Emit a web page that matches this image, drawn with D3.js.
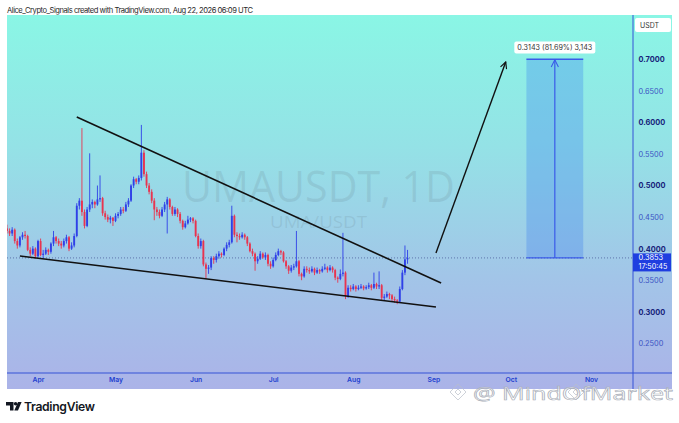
<!DOCTYPE html>
<html><head><meta charset="utf-8">
<script src="https://cdn.jsdelivr.net/npm/d3@7"></script>
<style>html,body{margin:0;padding:0;background:#fff;}svg{display:block;}</style>
</head><body><svg id="c" width="679" height="423"></svg>
<script>
// ---------- data ----------
const firstCandleDate = "2026-03-20";
// daily candles [open, high, low, close]
const candles = [
[.432,.438,.424,.428],[.428,.432,.420,.424],[.424,.434,.420,.430],[.430,.432,.408,.412],
[.412,.416,.400,.405],[.405,.420,.402,.418],[.418,.426,.414,.422],[.422,.428,.416,.420],
[.420,.422,.396,.398],[.398,.402,.388,.392],[.392,.404,.390,.400],[.400,.402,.384,.388],
[.388,.414,.386,.412],[.412,.416,.388,.390],[.390,.398,.385,.392],[.392,.402,.390,.398],
[.398,.400,.390,.395],[.395,.410,.392,.408],[.408,.428,.404,.418],[.418,.420,.408,.412],
[.412,.416,.404,.408],[.408,.412,.400,.405],[.405,.416,.402,.412],[.412,.422,.408,.418],
[.418,.420,.396,.400],[.400,.410,.398,.405],[.405,.424,.402,.420],[.420,.472,.418,.468],
[.468,.480,.462,.476],[.476,.591,.452,.458],[.458,.462,.432,.436],[.436,.466,.434,.462],
[.462,.551,.458,.470],[.470,.478,.464,.474],[.474,.476,.464,.470],[.470,.500,.468,.478],
[.478,.516,.474,.480],[.480,.482,.452,.456],[.456,.460,.446,.450],[.450,.454,.442,.446],
[.446,.452,.440,.449],[.449,.450,.436,.444],[.444,.456,.442,.452],[.452,.458,.448,.455],
[.455,.466,.452,.462],[.462,.466,.456,.460],[.460,.474,.458,.470],[.470,.480,.466,.476],
[.476,.502,.474,.500],[.500,.514,.496,.510],[.510,.512,.502,.506],[.506,.516,.502,.512],
[.512,.596,.508,.552],[.552,.556,.514,.518],[.518,.522,.496,.500],[.500,.504,.486,.490],
[.490,.494,.472,.476],[.476,.480,.445,.462],[.462,.466,.452,.458],[.458,.462,.448,.452],
[.452,.466,.450,.462],[.462,.474,.458,.470],[.470,.482,.424,.478],[.478,.480,.462,.466],
[.466,.468,.452,.455],[.455,.466,.452,.462],[.462,.464,.450,.455],[.455,.458,.440,.444],
[.444,.446,.430,.434],[.434,.444,.432,.440],[.440,.452,.438,.446],[.446,.450,.442,.448],
[.448,.450,.440,.444],[.444,.446,.418,.420],[.420,.424,.400,.404],[.404,.416,.400,.412],
[.412,.414,.372,.375],[.375,.378,.352,.368],[.368,.374,.360,.370],[.370,.388,.366,.385],
[.385,.388,.376,.382],[.382,.392,.378,.388],[.388,.396,.384,.392],[.392,.394,.386,.390],
[.390,.402,.388,.400],[.400,.410,.396,.406],[.406,.414,.402,.410],[.410,.468,.408,.452],
[.452,.454,.418,.422],[.422,.426,.410,.420],[.420,.424,.414,.418],[.418,.426,.416,.422],
[.422,.424,.414,.418],[.418,.420,.404,.408],[.408,.410,.394,.396],[.396,.400,.388,.392],
[.392,.394,.365,.380],[.380,.388,.376,.384],[.384,.396,.382,.392],[.392,.394,.384,.386],
[.386,.394,.382,.390],[.390,.392,.372,.376],[.376,.380,.368,.372],[.372,.386,.370,.382],
[.382,.394,.380,.390],[.390,.400,.388,.396],[.396,.398,.390,.394],[.394,.396,.378,.380],
[.380,.382,.368,.372],[.372,.374,.360,.365],[.365,.374,.362,.370],[.370,.376,.366,.372],
[.372,.428,.370,.380],[.380,.382,.356,.360],[.360,.362,.350,.356],[.356,.372,.354,.368],
[.368,.372,.362,.366],[.366,.370,.360,.364],[.364,.372,.362,.368],[.368,.370,.358,.362],
[.362,.370,.360,.366],[.366,.368,.360,.364],[.364,.372,.362,.368],[.368,.376,.366,.370],
[.370,.372,.362,.366],[.366,.374,.364,.370],[.370,.372,.362,.366],[.366,.368,.350,.354],
[.354,.356,.346,.352],[.352,.367,.350,.360],[.360,.425,.356,.362],[.362,.364,.320,.325],
[.325,.342,.322,.338],[.338,.342,.332,.336],[.336,.344,.334,.340],[.340,.342,.332,.336],
[.336,.342,.334,.338],[.338,.344,.336,.340],[.340,.342,.334,.337],[.337,.342,.335,.339],
[.339,.346,.336,.342],[.342,.344,.334,.338],[.338,.362,.336,.344],[.344,.346,.336,.340],
[.340,.364,.336,.342],[.342,.344,.318,.322],[.322,.328,.318,.324],[.324,.332,.322,.328],
[.328,.330,.320,.326],[.326,.328,.316,.320],[.320,.324,.314,.318],[.318,.320,.312,.316],
[.316,.340,.314,.336],[.336,.366,.334,.362],[.362,.405,.358,.383],[.383,.398,.376,.3853]
];
const priceTicks = [0.25,0.30,0.35,0.40,0.45,0.50,0.55,0.60,0.65,0.70];
const majorTicks = [0.30,0.40,0.50,0.60,0.70];
const monthTicks = ["2026-04-01","2026-05-01","2026-06-01","2026-07-01","2026-08-01","2026-09-01","2026-10-01","2026-11-01"];
const lastPrice = 0.3853;
const countdown = "17:50:45";
const upperTrend = [["2026-04-16",0.6086],["2026-09-04",0.3455]];
const lowerTrend = [["2026-03-25",0.3883],["2026-09-02",0.3075]];
const projArrow = [["2026-09-02",0.393],["2026-09-29",0.6957]];
const rangeDates = ["2026-10-07","2026-10-29"];
const rangePrices = [0.3853,0.70];
const rangeLabel = "0.3143 (81.69%) 3,143";
const headerText = "Alice_Crypto_Signals created with TradingView.com, Aug 22, 2026 06:09 UTC";
const symbolText = "UMAUSDT, 1D";
const pairText = "UMA/USDT";
const currency = "USDT";

// ---------- layout ----------
const svg = d3.select("#c");
const P = {left:7, top:15, right:633, bottom:373, axisRight:672, axisBottom:389};
const parse = d3.utcParse("%Y-%m-%d");
const x = d3.scaleUtc().domain([parse("2026-04-01"), parse("2026-11-01")]).range([38,591]);
const y = d3.scaleLinear().domain([0.25,0.70]).range([343.3,59.3]);

const defs = svg.append("defs");
const g = defs.append("linearGradient").attr("id","bg").attr("x1",0).attr("y1",0).attr("x2",0).attr("y2",1);
[["0%","#8af6e5"],["35%","#94e2e6"],["70%","#a2c5e8"],["100%","#abb3e8"]].forEach(s=>g.append("stop").attr("offset",s[0]).attr("stop-color",s[1]));
defs.append("clipPath").attr("id","plot").append("rect")
  .attr("x",P.left).attr("y",P.top).attr("width",P.right-P.left).attr("height",P.bottom-P.top);
const mk = defs.append("marker").attr("id","chev").attr("viewBox","0 0 10 10").attr("refX",9).attr("refY",5)
  .attr("markerWidth",8).attr("markerHeight",8).attr("markerUnits","userSpaceOnUse").attr("orient","auto");
mk.append("path").attr("d","M1,1 L9,5 L1,9").attr("fill","none").attr("stroke","#111").attr("stroke-width",1.4);
const mk2 = defs.append("marker").attr("id","chevb").attr("viewBox","0 0 10 10").attr("refX",9).attr("refY",5)
  .attr("markerWidth",9).attr("markerHeight",9).attr("markerUnits","userSpaceOnUse").attr("orient","auto");
mk2.append("path").attr("d","M1,1 L9,5 L1,9").attr("fill","none").attr("stroke","#3a5ae8").attr("stroke-width",1.2);

// header
svg.append("text").attr("x",7).attr("y",12.5).attr("font-family","Inter, Roboto, sans-serif")
  .attr("font-size",7.6).attr("fill","#2a2a2a").attr("textLength",246).text(headerText);

// background panel
svg.append("rect").attr("x",P.left).attr("y",P.top).attr("width",P.axisRight-P.left)
  .attr("height",P.axisBottom-P.top).attr("fill","url(#bg)");

// watermarks
svg.append("text").attr("x",182).attr("y",201.5).attr("font-family","'Open Sans', 'DejaVu Sans', sans-serif")
  .attr("font-size",43).attr("textLength",273).attr("lengthAdjust","spacingAndGlyphs")
  .attr("fill","#6f8f9c").attr("fill-opacity",0.22).text(symbolText);
svg.append("text").attr("x",270).attr("y",227.5).attr("font-family","'Open Sans', 'DejaVu Sans', sans-serif")
  .attr("font-size",16).attr("textLength",97).attr("lengthAdjust","spacingAndGlyphs")
  .attr("fill","#6f8f9c").attr("fill-opacity",0.22).text(pairText);

const plot = svg.append("g").attr("clip-path","url(#plot)");

// last price dotted line
plot.append("line").attr("x1",P.left).attr("x2",P.right).attr("y1",y(lastPrice)).attr("y2",y(lastPrice))
  .attr("stroke","#4a5f9a").attr("stroke-width",0.8).attr("stroke-dasharray","1,2");

// candles
const day = 24*3600*1000;
const t0 = parse(firstCandleDate);
const bw = (x(new Date(+t0+day)) - x(t0))*0.72;
const up = "#2f40e8", dn = "#e8344f";
const cg = plot.append("g");
candles.forEach((c,i)=>{
  const d = new Date(+t0 + i*day);
  const cx = x(d);
  const col = c[3] >= c[0] ? up : dn;
  cg.append("line").attr("x1",cx).attr("x2",cx).attr("y1",y(c[1])).attr("y2",y(c[2]))
    .attr("stroke",col).attr("stroke-width",0.9);
  const yt = y(Math.max(c[0],c[3])), yb = y(Math.min(c[0],c[3]));
  cg.append("rect").attr("x",cx-bw/2).attr("y",yt).attr("width",bw).attr("height",Math.max(1,yb-yt)).attr("fill",col);
});

// trend lines
const line = d3.line().x(d=>x(parse(d[0]))).y(d=>y(d[1]));
plot.append("path").attr("d",line(upperTrend)).attr("stroke","#111").attr("stroke-width",1.6).attr("fill","none");
plot.append("path").attr("d",line(lowerTrend)).attr("stroke","#111").attr("stroke-width",1.6).attr("fill","none");
plot.append("path").attr("d",line(projArrow)).attr("stroke","#111").attr("stroke-width",1.4).attr("fill","none")
  .attr("marker-end","url(#chev)");

// price range box
const bx0 = x(parse(rangeDates[0])), bx1 = x(parse(rangeDates[1]));
const by0 = y(rangePrices[1]), by1 = y(rangePrices[0]);
plot.append("rect").attr("x",bx0).attr("y",by0).attr("width",bx1-bx0).attr("height",by1-by0)
  .attr("fill","rgb(45,115,240)").attr("fill-opacity",0.28);
[by0,by1].forEach(v=>plot.append("line").attr("x1",bx0).attr("x2",bx1).attr("y1",v).attr("y2",v)
  .attr("stroke","#3a5ae8").attr("stroke-width",1.4));
const bxc = (bx0+bx1)/2;
plot.append("line").attr("x1",bxc).attr("x2",bxc).attr("y1",by1).attr("y2",by0+0.5)
  .attr("stroke","#3a5ae8").attr("stroke-width",1.2).attr("marker-end","url(#chevb)");
svg.append("rect").attr("x",bxc-40.5).attr("y",41.5).attr("width",81).attr("height",12).attr("rx",2)
  .attr("fill","#fff");
svg.append("text").attr("x",bxc).attr("y",50.3).attr("text-anchor","middle").attr("font-family","Inter, Roboto, sans-serif")
  .attr("font-size",7.2).attr("fill","#333").text(rangeLabel);

// axis lines
svg.append("line").attr("x1",P.right).attr("x2",P.right).attr("y1",P.top).attr("y2",P.axisBottom)
  .attr("stroke","#3452d6").attr("stroke-width",1);
svg.append("line").attr("x1",P.left).attr("x2",P.axisRight).attr("y1",P.bottom).attr("y2",P.bottom)
  .attr("stroke","#3452d6").attr("stroke-width",1.2);

// price axis
const yAxis = d3.axisRight(y).tickValues(priceTicks).tickSize(0).tickPadding(0).tickFormat(d3.format(".4f"));
const ya = svg.append("g").attr("transform",`translate(${P.right+5.5},0)`).call(yAxis);
ya.select(".domain").remove();
ya.selectAll("text").attr("font-family","Inter, Roboto, sans-serif").attr("font-size",7.4)
  .attr("fill",d=>majorTicks.some(m=>Math.abs(m-d)<1e-9)?"#17237a":"#3b52c4")
  .attr("font-weight",d=>majorTicks.some(m=>Math.abs(m-d)<1e-9)?700:400);

// currency box
svg.append("rect").attr("x",635).attr("y",18).attr("width",36).attr("height",14).attr("rx",2).attr("fill","#fff");
svg.append("text").attr("x",640).attr("y",27.8).attr("font-family","Inter, Roboto, sans-serif")
  .attr("font-size",7).attr("fill","#333").text(currency);

// last price label
svg.append("rect").attr("x",P.right).attr("y",y(lastPrice)-4.5).attr("width",38).attr("height",18).attr("fill","#1f3ee0");
svg.append("text").attr("x",638.5).attr("y",y(lastPrice)+2.5).attr("font-family","Inter, Roboto, sans-serif")
  .attr("font-size",7.4).attr("fill","#fff").text(d3.format(".4f")(lastPrice));
svg.append("text").attr("x",638.5).attr("y",y(lastPrice)+11).attr("font-family","Inter, Roboto, sans-serif")
  .attr("font-size",7.2).attr("fill","#fff").text(countdown);

// time axis
const xAxis = d3.axisBottom(x).tickValues(monthTicks.map(parse)).tickSize(0).tickPadding(0).tickFormat(d3.utcFormat("%b"));
const xa = svg.append("g").attr("transform",`translate(0,${P.bottom+4.5})`).call(xAxis);
xa.select(".domain").remove();
xa.selectAll("text").attr("font-family","Inter, Roboto, sans-serif").attr("font-size",6.8)
  .attr("font-weight",600).attr("fill","#2140cf");

// TradingView logo
const lg = svg.append("g").attr("fill","#131722");
lg.append("path").attr("d","M6,402 H13.5 V410.5 H10 V405.6 H6 Z");
lg.append("circle").attr("cx",15.6).attr("cy",403.8).attr("r",1.8);
lg.append("path").attr("d","M18,402 H21.6 L18,410.5 H14.3 Z");
svg.append("text").attr("x",24).attr("y",410.5).attr("font-family","Inter, Roboto, sans-serif")
  .attr("font-size",12.2).attr("font-weight",600).attr("fill","#131722").attr("textLength",71).text("TradingView");

// bottom watermark
const wm = svg.append("g").attr("fill","rgba(255,255,255,0.55)").attr("stroke","#b9bec8").attr("stroke-width",0.7);
[[458,392],[576,392]].forEach(([cx,cy])=>{
  wm.append("path").attr("d",`M${cx},${cy-8} L${cx+8},${cy} L${cx},${cy+8} L${cx-8},${cy} Z`).attr("fill","none");
  wm.append("path").attr("d",`M${cx},${cy-3} L${cx+3},${cy} L${cx},${cy+3} L${cx-3},${cy} Z`);
});
svg.append("text").attr("x",473).attr("y",400).attr("font-family","'Open Sans', 'DejaVu Sans', sans-serif")
  .attr("font-size",17.5).attr("textLength",200).attr("lengthAdjust","spacingAndGlyphs")
  .attr("fill","rgba(255,255,255,0.55)").attr("stroke","#a9aeb8").attr("stroke-width",0.6).text("@ MindOfMarket");
</script></body></html>
